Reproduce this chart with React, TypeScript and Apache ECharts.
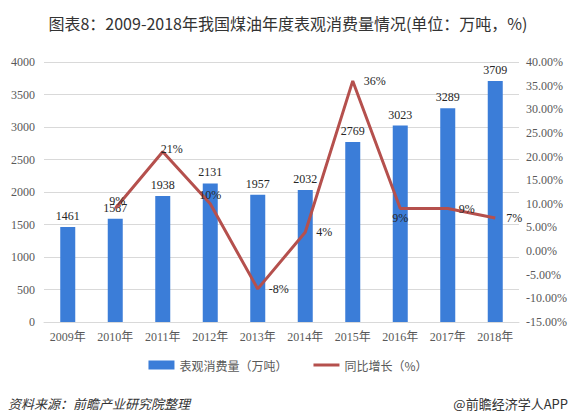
import React, { useEffect, useRef } from "react";
import * as echarts from "echarts";

const categories = ["2009年", "2010年", "2011年", "2012年", "2013年", "2014年", "2015年", "2016年", "2017年", "2018年"];
const consumption = [1461, 1587, 1938, 2131, 1957, 2032, 2769, 3023, 3289, 3709];
const growth: (number | null)[] = [null, 9, 21, 10, -8, 4, 36, 9, 9, 7];
const growthLabels = ["", "9%", "21%", "10%", "-8%", "4%", "36%", "9%", "9%", "7%"];

const serif = "'Liberation Serif', 'Times New Roman', 'Noto Sans CJK SC', serif";
const sans = "'Noto Sans CJK SC', 'Microsoft YaHei', sans-serif";

const labelPlacement: Record<number, any> = {
  1: { position: "top", offset: [2, 4] },
  2: { position: "top", offset: [9, 8] },
  3: { position: "top", offset: [0, 2] },
  7: { position: "bottom", offset: [0, -2] },
};

export default function App() {
  const ref = useRef<HTMLDivElement>(null);
  useEffect(() => {
    if (!ref.current) return;
    const chart = echarts.init(ref.current, undefined, { renderer: "svg" });
    const lineData = growth.map((v, i) => {
      if (v === null) return { value: null };
      const p = labelPlacement[i] || { position: "right", distance: 11 };
      return {
        value: v,
        label: {
          show: true,
          formatter: growthLabels[i],
          ...p,
        },
      };
    });
    chart.setOption({
      animation: false,
      backgroundColor: "#ffffff",
      title: {
        text: "图表8：2009-2018年我国煤油年度表观消费量情况(单位：万吨，%)",
        left: "center",
        top: 10,
        textStyle: { fontFamily: sans, fontSize: 16, fontWeight: "normal", color: "#333333" },
      },
      grid: { left: 44, right: 57, top: 62, bottom: 98 },
      legend: {
        bottom: 44,
        left: "center",
        itemGap: 26,
        itemWidth: 26,
        itemHeight: 9,
        textStyle: { fontFamily: sans, fontSize: 12, color: "#595959" },
        data: [
          { name: "表观消费量（万吨）", icon: "rect" },
          { name: "同比增长（%）", icon: "path://M0,0 L26,0 L26,3 L0,3 Z" },
        ],
      },
      xAxis: {
        type: "category",
        data: categories,
        axisTick: { show: false },
        axisLine: { lineStyle: { color: "#d9d9d9" } },
        axisLabel: { fontFamily: serif, fontSize: 12, color: "#595959", margin: 9 },
      },
      yAxis: [
        {
          type: "value",
          min: 0,
          max: 4000,
          interval: 500,
          axisLine: { show: false },
          axisTick: { show: false },
          splitLine: { lineStyle: { color: "#d9d9d9" } },
          axisLabel: {
            fontFamily: serif,
            fontSize: 12,
            color: "#595959",
            margin: 9,
            formatter: (v: number) => String(v),
          },
        },
        {
          type: "value",
          min: -15,
          max: 40,
          interval: 5,
          axisLine: { show: false },
          axisTick: { show: false },
          splitLine: { show: false },
          axisLabel: {
            fontFamily: serif,
            fontSize: 12,
            color: "#595959",
            margin: 7,
            formatter: (v: number) => v.toFixed(2) + "%",
          },
        },
      ],
      series: [
        {
          name: "表观消费量（万吨）",
          type: "bar",
          data: consumption,
          barWidth: 15,
          itemStyle: { color: "#3b7dd8" },
          label: {
            show: true,
            position: "top",
            distance: 5,
            fontFamily: serif,
            fontSize: 12,
            color: "#262626",
          },
        },
        {
          name: "同比增长（%）",
          type: "line",
          yAxisIndex: 1,
          data: lineData,
          symbol: "circle",
          symbolSize: 0.1,
          showSymbol: true,
          connectNulls: false,
          lineStyle: { color: "#b5504d", width: 3 },
          itemStyle: { color: "#b5504d" },
          label: { fontFamily: serif, fontSize: 12, color: "#262626" },
          z: 3,
        },
      ],
      graphic: [
        {
          type: "text",
          left: 8,
          top: 397,
          style: {
            text: "资料来源：前瞻产业研究院整理",
            fontFamily: sans,
            fontSize: 13,
            fontStyle: "italic",
            fill: "#333333",
          },
        },
        {
          type: "text",
          right: 8,
          top: 397,
          style: {
            text: "@前瞻经济学人APP",
            fontFamily: sans,
            fontSize: 13,
            fill: "#333333",
          },
        },
      ],
    });
    return () => chart.dispose();
  }, []);
  return <div ref={ref} style={{ width: 576, height: 420, position: "absolute", left: 0, top: 0 }} />;
}
